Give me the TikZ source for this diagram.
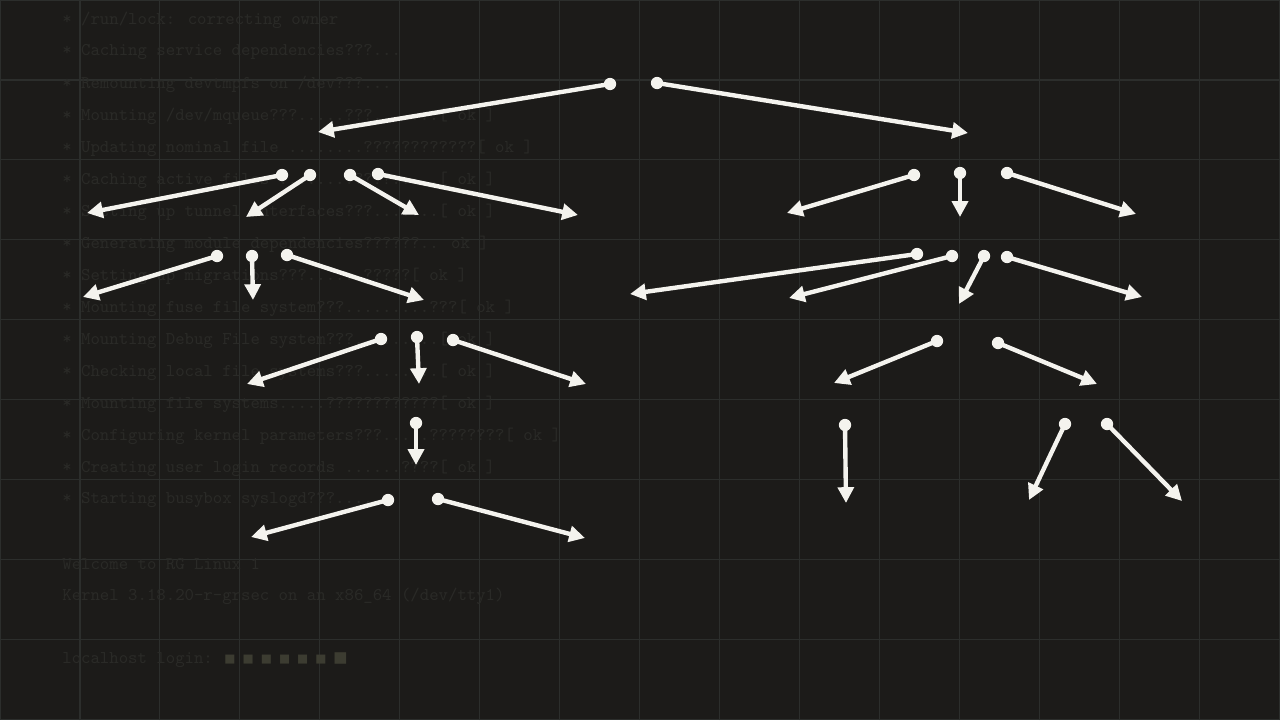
\documentclass[tikz,border=0pt]{standalone}
\usepackage{fontspec}
\usepackage{xcolor}
\usepackage{tikz}
\usetikzlibrary{arrows.meta}
\newfontfamily\blockfont{DejaVu Sans Mono}

\definecolor{board}{HTML}{1C1B19}
\definecolor{gridgray}{HTML}{2C2E2C}
\definecolor{termgray}{HTML}{2A2A27}
\definecolor{cursorgray}{HTML}{3C3C31}
\definecolor{chalk}{HTML}{F4F3EE}

\begin{document}
\begin{tikzpicture}[
  x=0.02cm, y=-0.02cm,
  term/.style={anchor=west,inner sep=0pt,text=termgray,font=\fontsize{10.2pt}{12pt}\ttfamily},
  dot/.style={circle,fill=chalk,inner sep=0pt,minimum size=7pt},
  branch/.style={-{Triangle[length=9pt,width=9pt]},line width=2.5pt,draw=chalk,shorten <=-1.5pt},
  gridline/.style={draw=gridgray,line width=0.6pt}
]
  % Background and grid
  \useasboundingbox (0,0) rectangle (1280,720);
  \fill[board] (0,0) rectangle (1280,720);
  \draw[gridline,step=1.6cm] (0,0) grid (1280,720);

  % Terminal text
  \node[term] (l1)  at (62,20)  {* /run/lock: correcting owner};
  \node[term] (l2)  at (62,52)  {* Caching service dependencies???...};
  \node[term] (l3)  at (62,84)  {* Remounting devtmpfs on /dev???...};
  \node[term] (l4)  at (62,116) {* Mounting /dev/mqueue???.....???.......[ ok ]};
  \node[term] (l5)  at (62,148) {* Updating nominal file ........????????????[ ok ]};
  \node[term] (l6)  at (62,180) {* Caching active files ........????.....[ ok ]};
  \node[term] (l7)  at (62,212) {* Setting up tunnel interfaces???.......[ ok ]};
  \node[term] (l8)  at (62,244) {* Generating module dependencies??????.. ok ]};
  \node[term] (l9)  at (62,276) {* Setting up migrations???......?????[ ok ]};
  \node[term] (l10) at (62,308) {* Mounting fuse file system???.........???[ ok ]};
  \node[term] (l11) at (62,340) {* Mounting Debug File system???.........[ ok ]};
  \node[term] (l12) at (62,372) {* Checking local file systems???........[ ok ]};
  \node[term] (l13) at (62,404) {* Mounting file systems.....????????????[ ok ]};
  \node[term] (l14) at (62,436) {* Configuring kernel parameters???.....????????[ ok ]};
  \node[term] (l15) at (62,468) {* Creating user login records ......????[ ok ]};
  \node[term] (l16) at (62,500) {* Starting busybox syslogd???......};
  \node[term] (l17) at (62,564) {Welcome to RG Linux 1};
  \node[term] (l18) at (62,596) {Kernel 3.18.20-r-grsec on an x86\_64 (/dev/tty1)};
  \node[term] (l19) at (62,660) {localhost login: \textcolor{cursorgray}{\blockfont\fontsize{8.6pt}{10pt}\selectfont ■ ■ ■ ■ ■ ■ {\fontsize{11pt}{12pt}\selectfont ■}}};

  % Dots (arrow starts)
  \node[dot] (p1)  at (610,84)  {};
  \node[dot] (p2)  at (657,83)  {};
  \node[dot] (p3)  at (282,175) {};
  \node[dot] (p4)  at (310,175) {};
  \node[dot] (p5)  at (350,175) {};
  \node[dot] (p6)  at (378,174) {};
  \node[dot] (p7)  at (914,175) {};
  \node[dot] (p8)  at (960,173) {};
  \node[dot] (p9)  at (1007,173) {};
  \node[dot] (p10) at (217,256) {};
  \node[dot] (p11) at (252,256) {};
  \node[dot] (p12) at (287,255) {};
  \node[dot] (p13) at (917,254) {};
  \node[dot] (p14) at (952,256) {};
  \node[dot] (p15) at (984,256) {};
  \node[dot] (p16) at (1007,257) {};
  \node[dot] (p17) at (381,339) {};
  \node[dot] (p18) at (417,337) {};
  \node[dot] (p19) at (453,340) {};
  \node[dot] (p20) at (416,423) {};
  \node[dot] (p21) at (388,500) {};
  \node[dot] (p22) at (438,499) {};
  \node[dot] (p23) at (937,341) {};
  \node[dot] (p24) at (998,343) {};
  \node[dot] (p25) at (845,425) {};
  \node[dot] (p26) at (1065,424) {};
  \node[dot] (p27) at (1107,424) {};

  % Arrow ends
  \coordinate (q1)  at (318,132);
  \coordinate (q2)  at (968,133);
  \coordinate (q3)  at (87,213);
  \coordinate (q4)  at (246,217);
  \coordinate (q5)  at (419,215);
  \coordinate (q6)  at (578,215);
  \coordinate (q7)  at (787,213);
  \coordinate (q8)  at (960,217);
  \coordinate (q9)  at (1136,214);
  \coordinate (q10) at (83,297);
  \coordinate (q11) at (253,300);
  \coordinate (q12) at (424,300);
  \coordinate (q13) at (630,294);
  \coordinate (q14) at (789,298);
  \coordinate (q15) at (959,304);
  \coordinate (q16) at (1142,297);
  \coordinate (q17) at (247,384);
  \coordinate (q18) at (419,384);
  \coordinate (q19) at (586,384);
  \coordinate (q20) at (416,465);
  \coordinate (q21) at (251,537);
  \coordinate (q22) at (585,538);
  \coordinate (q23) at (834,383);
  \coordinate (q24) at (1097,384);
  \coordinate (q25) at (846,503);
  \coordinate (q26) at (1029,500);
  \coordinate (q27) at (1182,501);

  % Arrows
  \draw[branch] (p1) -- (q1);
  \draw[branch] (p2) -- (q2);
  \draw[branch] (p3) -- (q3);
  \draw[branch] (p4) -- (q4);
  \draw[branch] (p5) -- (q5);
  \draw[branch] (p6) -- (q6);
  \draw[branch] (p7) -- (q7);
  \draw[branch] (p8) -- (q8);
  \draw[branch] (p9) -- (q9);
  \draw[branch] (p10) -- (q10);
  \draw[branch] (p11) -- (q11);
  \draw[branch] (p12) -- (q12);
  \draw[branch] (p13) -- (q13);
  \draw[branch] (p14) -- (q14);
  \draw[branch] (p15) -- (q15);
  \draw[branch] (p16) -- (q16);
  \draw[branch] (p17) -- (q17);
  \draw[branch] (p18) -- (q18);
  \draw[branch] (p19) -- (q19);
  \draw[branch] (p20) -- (q20);
  \draw[branch] (p21) -- (q21);
  \draw[branch] (p22) -- (q22);
  \draw[branch] (p23) -- (q23);
  \draw[branch] (p24) -- (q24);
  \draw[branch] (p25) -- (q25);
  \draw[branch] (p26) -- (q26);
  \draw[branch] (p27) -- (q27);
\end{tikzpicture}
\end{document}
